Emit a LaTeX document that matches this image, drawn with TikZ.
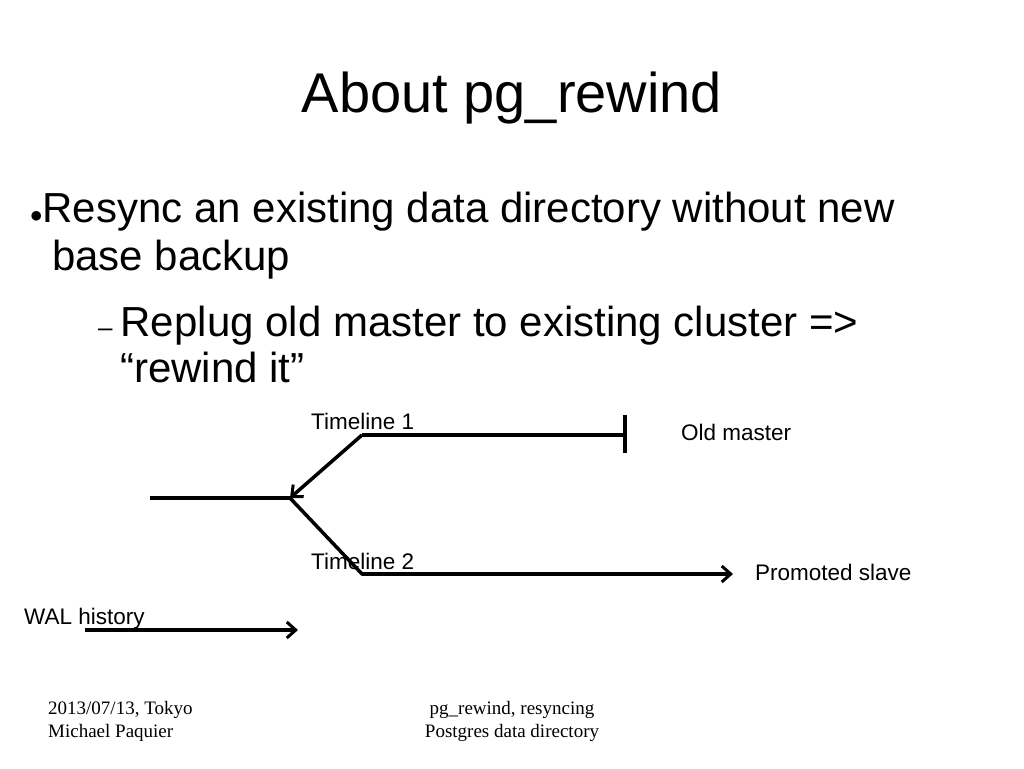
\documentclass[tikz,border=0pt]{standalone}
\usepackage{fontspec}
\setmainfont{Liberation Sans}
\newfontfamily\serifft{Liberation Serif}
\usetikzlibrary{arrows.meta}
\begin{document}
\begin{tikzpicture}[x=1pt,y=-1pt,
  lbl/.style={inner sep=0pt,font=\fontsize{22.5}{24}\selectfont},
  big/.style={anchor=base west,inner sep=0pt,font=\fontsize{42}{46}\selectfont},
  ln/.style={line width=3.5pt},
  arr/.style={ln,-{Straight Barb[length=9pt,width=16pt,line width=3pt]}},
  foot/.style={inner sep=0pt,font=\serifft\fontsize{19}{23}\selectfont,align=center}]
\useasboundingbox[fill=white] (0,0) rectangle (1024,768);
\node (title) at (512,98) {\fontsize{56}{60}\selectfont About pg\_rewind};
\node[big] (b1) at (30,222) {{\fontsize{26}{30}\selectfont$\bullet$}Resync an existing data directory without new};
\node[big] (b1b) at (52,270) {base backup};
\node[big] (b2) at (98,336) {{\fontsize{26}{30}\selectfont--}\hspace{8pt}Replug old master to existing cluster =>};
\node[big] (b2b) at (120,382) {“rewind it”};
\coordinate (s) at (150,498);
\coordinate (f) at (290,498);
\coordinate (u) at (362,435);
\coordinate (ue) at (625,435);
\coordinate (l) at (362,574);
\coordinate (le) at (733,574);
\coordinate (w1) at (85,630);
\coordinate (w2) at (298,630);
\draw[ln] (s) -- (f);
\draw[ln] (ue) -- (u);
\draw[arr] (u) -- (f);
\draw[ln] (625,415) -- (625,453);
\draw[ln,line join=round] (f) -- (l) -- ([xshift=-8pt]le);
\draw[arr] (l) -- (le);
\draw[arr] (w1) -- (w2);
\node[lbl,anchor=base west] (t1) at (311,429) {Timeline 1};
\node[lbl,anchor=base west] (t2) at (311,569) {Timeline 2};
\node[lbl,anchor=base west] (om) at (681,440) {Old master};
\node[lbl,anchor=base west] (ps) at (755,580) {Promoted slave};
\node[lbl,anchor=base west] (wal) at (24,624) {WAL history};
\node[foot,align=left,anchor=north west] (f1) at (48,701) {2013/07/13, Tokyo\\Michael Paquier};
\node[foot,anchor=north] (f2) at (512,701) {pg\_rewind, resyncing\\Postgres data directory};
\end{tikzpicture}
\end{document}
